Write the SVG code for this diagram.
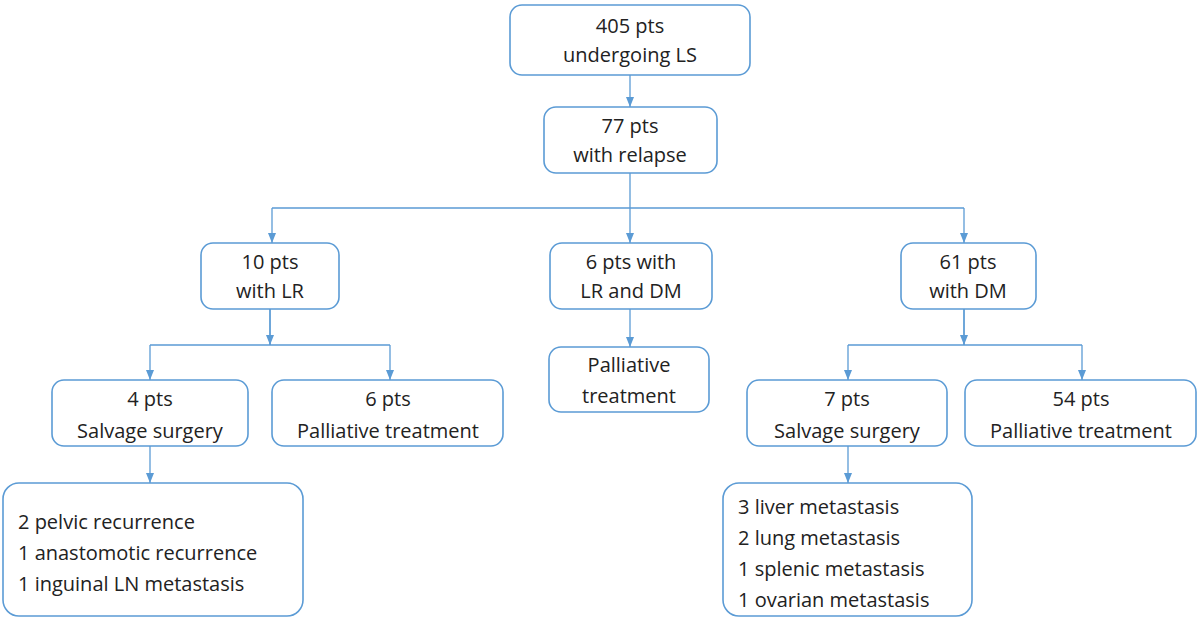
<svg xmlns="http://www.w3.org/2000/svg" width="1200" height="624" viewBox="0 0 1200 624">
<defs>
<style>
.b{fill:#fff;stroke:#5b9bd5;stroke-width:1.6}
.t{font-family:"Open Sans","Liberation Sans",sans-serif;font-size:20px;fill:#222}
.c{text-anchor:middle}
.l{fill:none;stroke:#5b9bd5;stroke-width:1.3}
</style>
<marker id="a" viewBox="0 0 10 10" refX="10" refY="5" markerWidth="8" markerHeight="8" orient="auto"><path d="M0,1L10,5L0,9z" fill="#5b9bd5"/></marker>
</defs>
<rect width="1200" height="624" fill="#fff"/>
<g id="connectors" class="l">
<path d="M630,75V107" marker-end="url(#a)"/>
<path d="M630,173V208M272,208H964"/>
<path d="M272,208V243" marker-end="url(#a)"/>
<path d="M630,208V243" marker-end="url(#a)"/>
<path d="M964,208V243" marker-end="url(#a)"/>
<path d="M270,309V345M150,345H390"/>
<path d="M150,345V380" marker-end="url(#a)"/>
<path d="M390,345V380" marker-end="url(#a)"/>
<path d="M270,309V345" marker-end="url(#a)"/>
<path d="M630,309V347" marker-end="url(#a)"/>
<path d="M964,309V345M848,345H1082"/>
<path d="M964,309V345" marker-end="url(#a)"/>
<path d="M848,345V380" marker-end="url(#a)"/>
<path d="M1082,345V380" marker-end="url(#a)"/>
<path d="M150,446V483" marker-end="url(#a)"/>
<path d="M848,446V483" marker-end="url(#a)"/>
</g>
<g id="n1"><rect class="b" x="510" y="5" width="240" height="70" rx="12"/><text class="t c" x="630" y="33">405 pts</text><text class="t c" x="630" y="62">undergoing LS</text></g>
<g id="n2"><rect class="b" x="544" y="107" width="173" height="66" rx="12"/><text class="t c" x="630" y="133">77 pts</text><text class="t c" x="630" y="162">with relapse</text></g>
<g id="n3"><rect class="b" x="201" y="243" width="138" height="66" rx="12"/><text class="t c" x="270" y="269">10 pts</text><text class="t c" x="270" y="298">with LR</text></g>
<g id="n4"><rect class="b" x="550" y="243" width="162" height="66" rx="12"/><text class="t c" x="631" y="269">6 pts with</text><text class="t c" x="631" y="298">LR and DM</text></g>
<g id="n5"><rect class="b" x="901" y="243" width="135" height="66" rx="12"/><text class="t c" x="968" y="269">61 pts</text><text class="t c" x="968" y="298">with DM</text></g>
<g id="n6"><rect class="b" x="52" y="380" width="196" height="66" rx="12"/><text class="t c" x="150" y="406">4 pts</text><text class="t c" x="150" y="438">Salvage surgery</text></g>
<g id="n7"><rect class="b" x="272" y="380" width="231" height="66" rx="12"/><text class="t c" x="388" y="406">6 pts</text><text class="t c" x="388" y="438">Palliative treatment</text></g>
<g id="n8"><rect class="b" x="549" y="347" width="160" height="65" rx="12"/><text class="t c" x="629" y="372">Palliative</text><text class="t c" x="629" y="403">treatment</text></g>
<g id="n9"><rect class="b" x="747" y="380" width="200" height="66" rx="12"/><text class="t c" x="847" y="406">7 pts</text><text class="t c" x="847" y="438">Salvage surgery</text></g>
<g id="n10"><rect class="b" x="965" y="380" width="231" height="66" rx="12"/><text class="t c" x="1081" y="406">54 pts</text><text class="t c" x="1081" y="438">Palliative treatment</text></g>
<g id="n11"><rect class="b" x="3" y="483" width="300" height="133" rx="16"/><text class="t" x="18" y="529">2 pelvic recurrence</text><text class="t" x="18" y="560">1 anastomotic recurrence</text><text class="t" x="18" y="591">1 inguinal LN metastasis</text></g>
<g id="n12"><rect class="b" x="723" y="483" width="249" height="133" rx="16"/><text class="t" x="738" y="514">3 liver metastasis</text><text class="t" x="738" y="545">2 lung metastasis</text><text class="t" x="738" y="576">1 splenic metastasis</text><text class="t" x="738" y="607">1 ovarian metastasis</text></g>
</svg>
